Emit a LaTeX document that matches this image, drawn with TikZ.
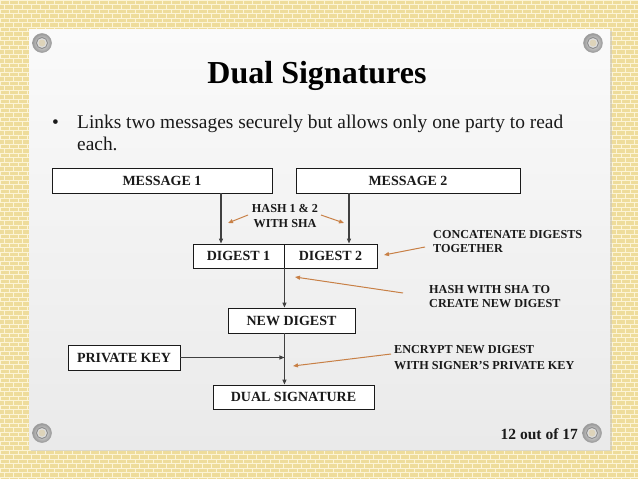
\documentclass[tikz,border=0pt]{standalone}
\usepackage{fontspec}
\setmainfont{Liberation Serif}
\usetikzlibrary{arrows.meta}
\definecolor{brick}{RGB}{238,220,155}
\definecolor{mortar}{RGB}{252,244,214}
\definecolor{linegray}{RGB}{64,64,64}
\definecolor{orangeline}{RGB}{200,128,70}
\definecolor{txt}{RGB}{26,26,26}
\definecolor{screwcore}{RGB}{222,212,186}
\definecolor{cardtop}{RGB}{250,250,250}
\definecolor{cardbot}{RGB}{234,234,234}
\tikzset{
  boxnode/.style={draw=txt, line width=0.9pt, fill=white, inner sep=0pt, text=txt,
    font=\fontsize{14}{16}\selectfont\bfseries},
  garrow/.style={draw=linegray, line width=1.1pt, -{Triangle[length=5pt,width=4pt]}},
  oarrow/.style={draw=orangeline, line width=1pt, -{Triangle[length=5pt,width=4pt]}},
  annot/.style={text=txt, align=left, inner sep=0pt, anchor=base west,
    font=\fontsize{12.2}{14.5}\selectfont\bfseries},
  screw/.pic={
    \shade[inner color=gray!10, outer color=gray!80] (0,0) circle (9.5);
    \draw[gray!75, line width=0.5pt] (0,0) circle (9.5);
    \fill[gray!25] (0,0) circle (5.5);
    \draw[gray!90, line width=0.9pt] (0,0) circle (5.5);
    \fill[screwcore] (0,0) circle (3.5);
  }
}
\begin{document}
\begin{tikzpicture}[x=1pt,y=-1pt]
\useasboundingbox (0,0) rectangle (638,479);
% brick background
\fill[brick] (0,0) rectangle (638,479);
\foreach \yy in {0,4.5,...,479} \draw[mortar, line width=0.7pt] (0,\yy) -- (638,\yy);
\foreach \xx in {0,9,...,638} \draw[mortar, line width=0.7pt, dash pattern=on 4.5pt off 4.5pt] (\xx,0) -- (\xx,479);
\foreach \xx in {4.5,13.5,...,638} \draw[mortar, line width=0.7pt, dash pattern=on 4.5pt off 4.5pt, dash phase=4.5pt] (\xx,0) -- (\xx,479);
% card
\fill[gray!45, opacity=0.6] (31,31) rectangle (612,451);
\shade[top color=cardtop, bottom color=cardbot] (29,29) rectangle (610,449);
% screws
\pic at (42,43) {screw};
\pic at (593,43) {screw};
\pic at (42,433) {screw};
\pic at (592,433) {screw};
% title and bullet
\node[font=\fontsize{32}{36}\selectfont\bfseries, text=black, inner sep=0pt, anchor=base] (title) at (317,83) {Dual Signatures};
\node[font=\fontsize{19.4}{22}\selectfont, text=txt, inner sep=0pt, anchor=base west] (bul) at (52,128) {•};
\node[font=\fontsize{19.4}{22}\selectfont, text=txt, inner sep=0pt, anchor=base west] (l1) at (77,128) {Links two messages securely but allows only one party to read};
\node[font=\fontsize{19.4}{22}\selectfont, text=txt, inner sep=0pt, anchor=base west] (l2) at (77,150) {each.};
% boxes
\node[boxnode, minimum width=220pt, minimum height=25pt] (m1) at (162,180.5) {MESSAGE 1};
\node[boxnode, minimum width=224pt, minimum height=25pt] (m2) at (408,180.5) {MESSAGE 2};
\node[boxnode, minimum width=91pt, minimum height=24pt] (d1) at (238.5,256) {DIGEST 1};
\node[boxnode, minimum width=93pt, minimum height=24pt] (d2) at (330.5,256) {DIGEST 2};
\node[boxnode, minimum width=127pt, minimum height=25pt] (nd) at (291.5,320.5) {NEW DIGEST};
\node[boxnode, minimum width=112pt, minimum height=25pt] (pk) at (124,357.5) {PRIVATE KEY};
\node[boxnode, minimum width=161pt, minimum height=24pt] (ds) at (293.5,397) {DUAL SIGNATURE};
% gray connectors
\draw[garrow] ([xshift=59pt]m1.south) -- ([xshift=-17.5pt]d1.north);
\draw[garrow] ([xshift=-59pt]m2.south) -- ([xshift=18.5pt]d2.north);
\draw[garrow] (d1.south east) -- (d1.south east |- nd.north);
\draw[garrow] (nd.south -| d1.south east) -- (ds.north -| d1.south east);
\draw[garrow] (pk.east) -- (pk.east -| d1.south east);
% annotations (anchor base = last line baseline)
\node[annot, align=center, anchor=base] (hash) at (285,227) {HASH 1 \& 2\\[0.5pt]WITH SHA};
\node[annot] (conc) at (433,252) {CONCATENATE DIGESTS\\[-0.5pt]TOGETHER};
\node[annot] (hsha) at (429,307) {HASH WITH SHA TO\\[-0.5pt]CREATE NEW DIGEST};
\node[annot] (encr) at (394,369) {ENCRYPT NEW DIGEST\\[1.5pt]WITH SIGNER’S PRIVATE KEY};
% orange pointers
\coordinate (p1a) at (248,215); \coordinate (p1b) at (228,223);
\coordinate (p2a) at (321,215); \coordinate (p2b) at (344,223);
\coordinate (p3a) at (425,247); \coordinate (p3b) at (384,255);
\coordinate (p4a) at (403,293); \coordinate (p4b) at (295,277);
\coordinate (p5a) at (391,354); \coordinate (p5b) at (293,366);
\draw[oarrow] (p1a) -- (p1b);
\draw[oarrow] (p2a) -- (p2b);
\draw[oarrow] (p3a) -- (p3b);
\draw[oarrow] (p4a) -- (p4b);
\draw[oarrow] (p5a) -- (p5b);
% page number
\node[font=\fontsize{15.5}{18}\selectfont\bfseries, text=txt, inner sep=0pt, anchor=base east] (pg) at (578,439) {12 out of 17};
\end{tikzpicture}
\end{document}
